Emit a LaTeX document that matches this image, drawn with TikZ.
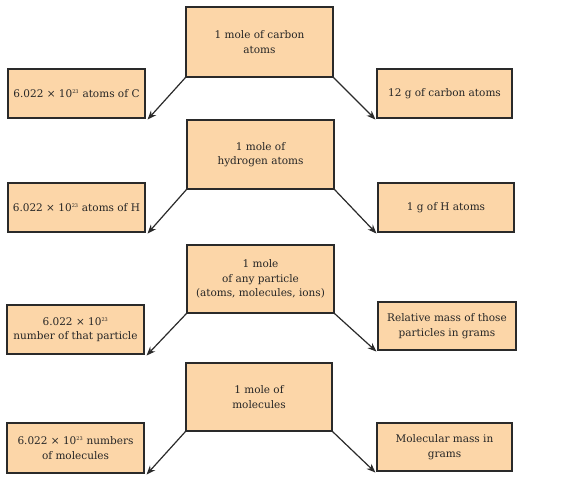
\documentclass[tikz,border=0pt]{standalone}
\usepackage{fontspec}
\setmainfont{DejaVu Serif}
\usetikzlibrary{arrows.meta}
\definecolor{boxfill}{HTML}{FCD6A8}
\definecolor{boxline}{HTML}{2A2A2A}
\begin{document}
\begin{tikzpicture}[x=1pt,y=-1pt,
  box/.style={draw=boxline,line width=1.1pt,fill=boxfill,align=center,inner sep=2pt,font=\fontsize{10.5}{14.5}\selectfont,text=black!85},
  conn/.style={draw=boxline,line width=1.2pt,-{Stealth[length=9pt,width=7pt]}}]
\useasboundingbox (0,0) rectangle (582,481);
\node[box,minimum width=147pt,minimum height=70pt] (c1) at (259.5,42) {1 mole of carbon\\atoms};
\node[box,minimum width=137pt,minimum height=49pt] (l1) at (76.5,93.5) {6.022 × 10\textsuperscript{\tiny 23} atoms of C};
\node[box,minimum width=135pt,minimum height=49pt] (r1) at (444.5,93.5) {12 g of carbon atoms};
\node[box,minimum width=147pt,minimum height=69pt] (c2) at (260.5,154.5) {1 mole of\\hydrogen atoms};
\node[box,minimum width=137pt,minimum height=49pt] (l2) at (76.5,207.5) {6.022 × 10\textsuperscript{\tiny 23} atoms of H};
\node[box,minimum width=136pt,minimum height=49pt] (r2) at (446,207.5) {1 g of H atoms};
\node[box,minimum width=147pt,minimum height=68pt] (c3) at (260.5,279) {1 mole\\of any particle\\(atoms, molecules, ions)};
\node[box,minimum width=137pt,minimum height=49pt] (l3) at (75.5,329.5) {6.022 × 10\textsuperscript{\tiny 23}\\number of that particle};
\node[box,minimum width=138pt,minimum height=48pt] (r3) at (447,326) {Relative mass of those\\particles in grams};
\node[box,minimum width=146pt,minimum height=68pt] (c4) at (259,397) {1 mole of\\molecules};
\node[box,minimum width=137pt,minimum height=50pt] (l4) at (75.5,448) {6.022 × 10\textsuperscript{\tiny 23} numbers\\of molecules};
\node[box,minimum width=135pt,minimum height=48pt] (r4) at (444.5,447) {Molecular mass in\\grams};
\foreach \c/\l/\r in {c1/l1/r1,c2/l2/r2,c3/l3/r3,c4/l4/r4}{
  \draw[conn] (\c.south west) -- ([xshift=2pt,yshift=-1pt]\l.south east);
  \draw[conn] (\c.south east) -- ([xshift=-1pt,yshift=-1pt]\r.south west);
}
\end{tikzpicture}
\end{document}
